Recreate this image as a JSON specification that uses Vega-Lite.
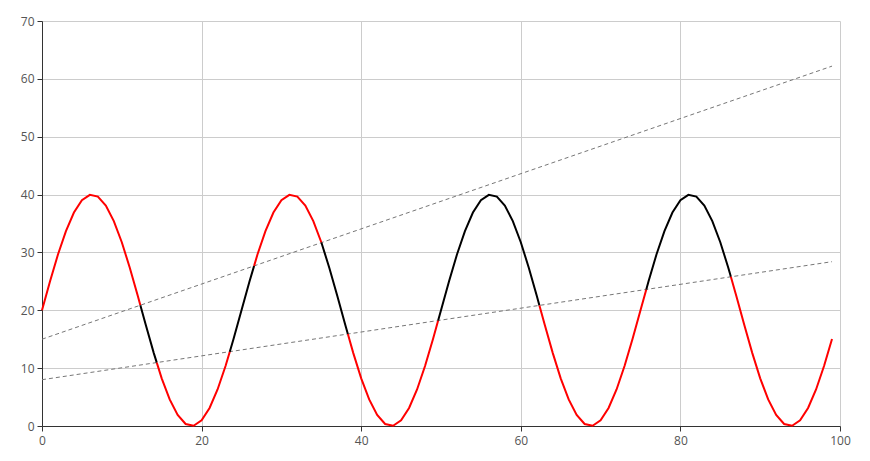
{
  "$schema": "https://vega.github.io/schema/vega-lite/v6.json",
  "width": 798,
  "height": 405,
  "autosize": "none",
  "padding": {"left": 42, "top": 21, "right": 30, "bottom": 35},
  "config": {
    "view": {"stroke": null},
    "axis": {
      "labelFont": "Open Sans",
      "labelFontSize": 12,
      "labelColor": "#555555",
      "labelFlush": false,
      "domainColor": "#333333",
      "tickColor": "#333333",
      "tickSize": 5,
      "gridColor": "#cccccc",
      "title": null
    }
  },
  "datasets": {
    "wave": [
      {"x": 0, "y": 20, "run": 1, "zone": "out"},
      {"x": 1, "y": 24.97, "run": 1, "zone": "out"},
      {"x": 2, "y": 29.64, "run": 1, "zone": "out"},
      {"x": 3, "y": 33.69, "run": 1, "zone": "out"},
      {"x": 4, "y": 36.89, "run": 1, "zone": "out"},
      {"x": 5, "y": 39.02, "run": 1, "zone": "out"},
      {"x": 6, "y": 39.96, "run": 1, "zone": "out"},
      {"x": 7, "y": 39.65, "run": 1, "zone": "out"},
      {"x": 8, "y": 38.1, "run": 1, "zone": "out"},
      {"x": 9, "y": 35.41, "run": 1, "zone": "out"},
      {"x": 10, "y": 31.76, "run": 1, "zone": "out"},
      {"x": 11, "y": 27.36, "run": 1, "zone": "out"},
      {"x": 12, "y": 22.51, "run": 1, "zone": "out"},
      {"x": 12.325, "y": 20.88, "run": 1, "zone": "out"},
      {"x": 12.325, "y": 20.88, "run": 2, "zone": "in"},
      {"x": 13, "y": 17.49, "run": 2, "zone": "in"},
      {"x": 14, "y": 12.64, "run": 2, "zone": "in"},
      {"x": 14.382, "y": 10.96, "run": 2, "zone": "in"},
      {"x": 14.382, "y": 10.96, "run": 3, "zone": "out"},
      {"x": 15, "y": 8.24, "run": 3, "zone": "out"},
      {"x": 16, "y": 4.59, "run": 3, "zone": "out"},
      {"x": 17, "y": 1.9, "run": 3, "zone": "out"},
      {"x": 18, "y": 0.35, "run": 3, "zone": "out"},
      {"x": 19, "y": 0.04, "run": 3, "zone": "out"},
      {"x": 20, "y": 0.98, "run": 3, "zone": "out"},
      {"x": 21, "y": 3.11, "run": 3, "zone": "out"},
      {"x": 22, "y": 6.31, "run": 3, "zone": "out"},
      {"x": 23, "y": 10.36, "run": 3, "zone": "out"},
      {"x": 23.532, "y": 12.84, "run": 3, "zone": "out"},
      {"x": 23.532, "y": 12.84, "run": 4, "zone": "in"},
      {"x": 24, "y": 15.03, "run": 4, "zone": "in"},
      {"x": 25, "y": 20, "run": 4, "zone": "in"},
      {"x": 26, "y": 24.97, "run": 4, "zone": "in"},
      {"x": 26.58, "y": 27.68, "run": 4, "zone": "in"},
      {"x": 26.58, "y": 27.68, "run": 5, "zone": "out"},
      {"x": 27, "y": 29.64, "run": 5, "zone": "out"},
      {"x": 28, "y": 33.69, "run": 5, "zone": "out"},
      {"x": 29, "y": 36.89, "run": 5, "zone": "out"},
      {"x": 30, "y": 39.02, "run": 5, "zone": "out"},
      {"x": 31, "y": 39.96, "run": 5, "zone": "out"},
      {"x": 32, "y": 39.65, "run": 5, "zone": "out"},
      {"x": 33, "y": 38.1, "run": 5, "zone": "out"},
      {"x": 34, "y": 35.41, "run": 5, "zone": "out"},
      {"x": 35, "y": 31.76, "run": 5, "zone": "out"},
      {"x": 35.012, "y": 31.71, "run": 5, "zone": "out"},
      {"x": 35.012, "y": 31.71, "run": 6, "zone": "in"},
      {"x": 36, "y": 27.36, "run": 6, "zone": "in"},
      {"x": 37, "y": 22.51, "run": 6, "zone": "in"},
      {"x": 38, "y": 17.49, "run": 6, "zone": "in"},
      {"x": 38.329, "y": 15.89, "run": 6, "zone": "in"},
      {"x": 38.329, "y": 15.89, "run": 7, "zone": "out"},
      {"x": 39, "y": 12.64, "run": 7, "zone": "out"},
      {"x": 40, "y": 8.24, "run": 7, "zone": "out"},
      {"x": 41, "y": 4.59, "run": 7, "zone": "out"},
      {"x": 42, "y": 1.9, "run": 7, "zone": "out"},
      {"x": 43, "y": 0.35, "run": 7, "zone": "out"},
      {"x": 44, "y": 0.04, "run": 7, "zone": "out"},
      {"x": 45, "y": 0.98, "run": 7, "zone": "out"},
      {"x": 46, "y": 3.11, "run": 7, "zone": "out"},
      {"x": 47, "y": 6.31, "run": 7, "zone": "out"},
      {"x": 48, "y": 10.36, "run": 7, "zone": "out"},
      {"x": 49, "y": 15.03, "run": 7, "zone": "out"},
      {"x": 49.643, "y": 18.23, "run": 7, "zone": "out"},
      {"x": 49.643, "y": 18.23, "run": 8, "zone": "in"},
      {"x": 50, "y": 20, "run": 8, "zone": "in"},
      {"x": 51, "y": 24.97, "run": 8, "zone": "in"},
      {"x": 52, "y": 29.64, "run": 8, "zone": "in"},
      {"x": 53, "y": 33.69, "run": 8, "zone": "in"},
      {"x": 54, "y": 36.89, "run": 8, "zone": "in"},
      {"x": 55, "y": 39.02, "run": 8, "zone": "in"},
      {"x": 56, "y": 39.96, "run": 8, "zone": "in"},
      {"x": 57, "y": 39.65, "run": 8, "zone": "in"},
      {"x": 58, "y": 38.1, "run": 8, "zone": "in"},
      {"x": 59, "y": 35.41, "run": 8, "zone": "in"},
      {"x": 60, "y": 31.76, "run": 8, "zone": "in"},
      {"x": 61, "y": 27.36, "run": 8, "zone": "in"},
      {"x": 62, "y": 22.51, "run": 8, "zone": "in"},
      {"x": 62.333, "y": 20.84, "run": 8, "zone": "in"},
      {"x": 62.333, "y": 20.84, "run": 9, "zone": "out"},
      {"x": 63, "y": 17.49, "run": 9, "zone": "out"},
      {"x": 64, "y": 12.64, "run": 9, "zone": "out"},
      {"x": 65, "y": 8.24, "run": 9, "zone": "out"},
      {"x": 66, "y": 4.59, "run": 9, "zone": "out"},
      {"x": 67, "y": 1.9, "run": 9, "zone": "out"},
      {"x": 68, "y": 0.35, "run": 9, "zone": "out"},
      {"x": 69, "y": 0.04, "run": 9, "zone": "out"},
      {"x": 70, "y": 0.98, "run": 9, "zone": "out"},
      {"x": 71, "y": 3.11, "run": 9, "zone": "out"},
      {"x": 72, "y": 6.31, "run": 9, "zone": "out"},
      {"x": 73, "y": 10.36, "run": 9, "zone": "out"},
      {"x": 74, "y": 15.03, "run": 9, "zone": "out"},
      {"x": 75, "y": 20, "run": 9, "zone": "out"},
      {"x": 75.725, "y": 23.6, "run": 9, "zone": "out"},
      {"x": 75.725, "y": 23.6, "run": 10, "zone": "in"},
      {"x": 76, "y": 24.97, "run": 10, "zone": "in"},
      {"x": 77, "y": 29.64, "run": 10, "zone": "in"},
      {"x": 78, "y": 33.69, "run": 10, "zone": "in"},
      {"x": 79, "y": 36.89, "run": 10, "zone": "in"},
      {"x": 80, "y": 39.02, "run": 10, "zone": "in"},
      {"x": 81, "y": 39.96, "run": 10, "zone": "in"},
      {"x": 82, "y": 39.65, "run": 10, "zone": "in"},
      {"x": 83, "y": 38.1, "run": 10, "zone": "in"},
      {"x": 84, "y": 35.41, "run": 10, "zone": "in"},
      {"x": 85, "y": 31.76, "run": 10, "zone": "in"},
      {"x": 86, "y": 27.36, "run": 10, "zone": "in"},
      {"x": 86.325, "y": 25.78, "run": 10, "zone": "in"},
      {"x": 86.325, "y": 25.78, "run": 11, "zone": "out"},
      {"x": 87, "y": 22.51, "run": 11, "zone": "out"},
      {"x": 88, "y": 17.49, "run": 11, "zone": "out"},
      {"x": 89, "y": 12.64, "run": 11, "zone": "out"},
      {"x": 90, "y": 8.24, "run": 11, "zone": "out"},
      {"x": 91, "y": 4.59, "run": 11, "zone": "out"},
      {"x": 92, "y": 1.9, "run": 11, "zone": "out"},
      {"x": 93, "y": 0.35, "run": 11, "zone": "out"},
      {"x": 94, "y": 0.04, "run": 11, "zone": "out"},
      {"x": 95, "y": 0.98, "run": 11, "zone": "out"},
      {"x": 96, "y": 3.11, "run": 11, "zone": "out"},
      {"x": 97, "y": 6.31, "run": 11, "zone": "out"},
      {"x": 98, "y": 10.36, "run": 11, "zone": "out"},
      {"x": 99, "y": 15.03, "run": 11, "zone": "out"}
    ],
    "trend": [
      {"x": 0, "y": 15, "band": "upper"},
      {"x": 99, "y": 62.2, "band": "upper"},
      {"x": 0, "y": 8, "band": "lower"},
      {"x": 99, "y": 28.4, "band": "lower"}
    ]
  },
  "encoding": {
    "x": {
      "field": "x",
      "type": "quantitative",
      "scale": {"domain": [0, 100], "nice": false},
      "axis": {"values": [0, 20, 40, 60, 80, 100], "labelPadding": 4}
    },
    "y": {
      "field": "y",
      "type": "quantitative",
      "scale": {"domain": [0, 70], "nice": false},
      "axis": {"values": [0, 10, 20, 30, 40, 50, 60, 70], "labelPadding": 3}
    }
  },
  "layer": [
    {
      "data": {"name": "trend"},
      "mark": {"type": "line", "color": "#777777", "strokeWidth": 1, "strokeDash": [4, 3]},
      "encoding": {"detail": {"field": "band", "type": "nominal"}}
    },
    {
      "data": {"name": "wave"},
      "mark": {"type": "line", "strokeWidth": 2},
      "encoding": {
        "detail": {"field": "run", "type": "nominal"},
        "color": {
          "field": "zone",
          "type": "nominal",
          "scale": {"domain": ["out", "in"], "range": ["#ff0000", "#000000"]},
          "legend": null
        }
      }
    }
  ]
}
